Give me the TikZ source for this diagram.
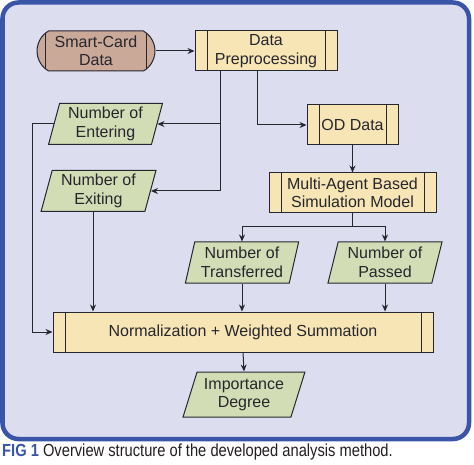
\documentclass[tikz,border=0pt]{standalone}
\usepackage{fontspec}
\setmainfont{Liberation Sans}
\newfontfamily\capfont[FakeStretch=0.84]{Liberation Sans}
\usetikzlibrary{shapes.geometric,shapes.misc,arrows.meta,calc}
\definecolor{frameblue}{HTML}{3A55A8}
\definecolor{lav}{HTML}{DDDDF0}
\definecolor{procfill}{HTML}{F7E5B5}
\definecolor{datafill}{HTML}{D3DDB5}
\definecolor{termfill}{HTML}{CAA999}
\definecolor{ink}{HTML}{26262E}
\definecolor{captext}{HTML}{231F20}
\begin{document}
\begin{tikzpicture}[x=1pt,y=-1pt,
  every node/.style={font=\fontsize{16}{18.5}\selectfont, text=ink, align=center, inner sep=0pt},
  inlines/.style={path picture={\draw[ink,line width=1pt]
      ([xshift=#1]path picture bounding box.north west) -- ([xshift=#1]path picture bounding box.south west)
      ([xshift=-#1]path picture bounding box.north east) -- ([xshift=-#1]path picture bounding box.south east);}},
  proc/.style={draw=ink, line width=1pt, fill=procfill, minimum height=40pt, inlines=12pt},
  term/.style={rounded rectangle, rounded rectangle arc length=120, draw=ink, line width=1pt, fill=termfill, minimum height=40pt, inlines=11.5pt},
  datanode/.style={trapezium, trapezium left angle=75, trapezium right angle=105, trapezium stretches=true, draw=ink, line width=1pt, fill=datafill, minimum height=41pt},
  ln/.style={draw=ink, line width=1pt},
  arr/.style={draw=ink, line width=1pt, -{Stealth[length=7pt,width=6pt]}}
]
\useasboundingbox (0,0) rectangle (474,465);
\fill[white] (0,0) rectangle (474,465);
\draw[line width=4.5pt, draw=frameblue, fill=lav, rounded corners=16pt] (2.5,2.5) rectangle (469,439);

\node[term, minimum width=118pt] (sc) at (96,51) {Smart-Card\\Data};
\node[proc, minimum width=142pt] (dp) at (266,51) {Data\\Preprocessing};
\node[proc, minimum width=91pt] (od) at (352.5,125) {OD Data};
\node[proc, minimum width=167pt] (mabs) at (352.5,193) {Multi-Agent Based\\Simulation Model};
\node[proc, minimum width=380pt] (norm) at (243,332) {Normalization + Weighted Summation};

\node[datanode, minimum width=115pt] (ent) at (105.5,124) {Number of\\Entering};
\node[datanode, minimum width=116pt] (exi) at (98.5,191) {Number of\\Exiting};
\node[datanode, minimum width=114pt] (tra) at (242,262.5) {Number of\\Transferred};
\node[datanode, minimum width=114pt] (pas) at (385,262.5) {Number of\\Passed};
\node[datanode, minimum width=122pt, trapezium left angle=70, trapezium right angle=110, minimum height=45pt] (imp) at (244,394.5) {Importance\\Degree};

\coordinate (bx) at (220,0);
\coordinate (ox) at (257,0);
\coordinate (lx) at (32,0);
\coordinate (ex) at (93,0);
\coordinate (sy) at (0,227);

\draw[arr] (sc.east) -- (dp.west);
\draw[arr] (dp.south -| ox) |- (od.west);
\draw[ln] (dp.south -| bx) -- (bx |- exi.east);
\draw[arr] (bx |- ent.east) -- (ent.east);
\draw[arr] (bx |- exi.east) -- (exi.east);
\draw[arr] (ent.west) -- (ent.west -| lx) |- (norm.west);
\draw[arr] (exi.south -| ex) -- (norm.north -| ex);
\draw[arr] (od.south) -- (mabs.north);
\draw[ln] (mabs.south) -- (mabs.south |- sy);
\draw[arr] (mabs.south |- sy) -| (tra.north);
\draw[arr] (mabs.south |- sy) -| (pas.north);
\draw[arr] (tra.south) -- (tra.south |- norm.north);
\draw[arr] (pas.south) -- (pas.south |- norm.north);
\draw[arr] (norm.south) -- (imp.north);

\node[anchor=base west, font=\capfont\fontsize{17.5}{20}\selectfont, text=captext] (cap) at (2,456) {\textcolor{frameblue}{\bfseries FIG 1} Overview structure of the developed analysis method.};
\end{tikzpicture}
\end{document}
